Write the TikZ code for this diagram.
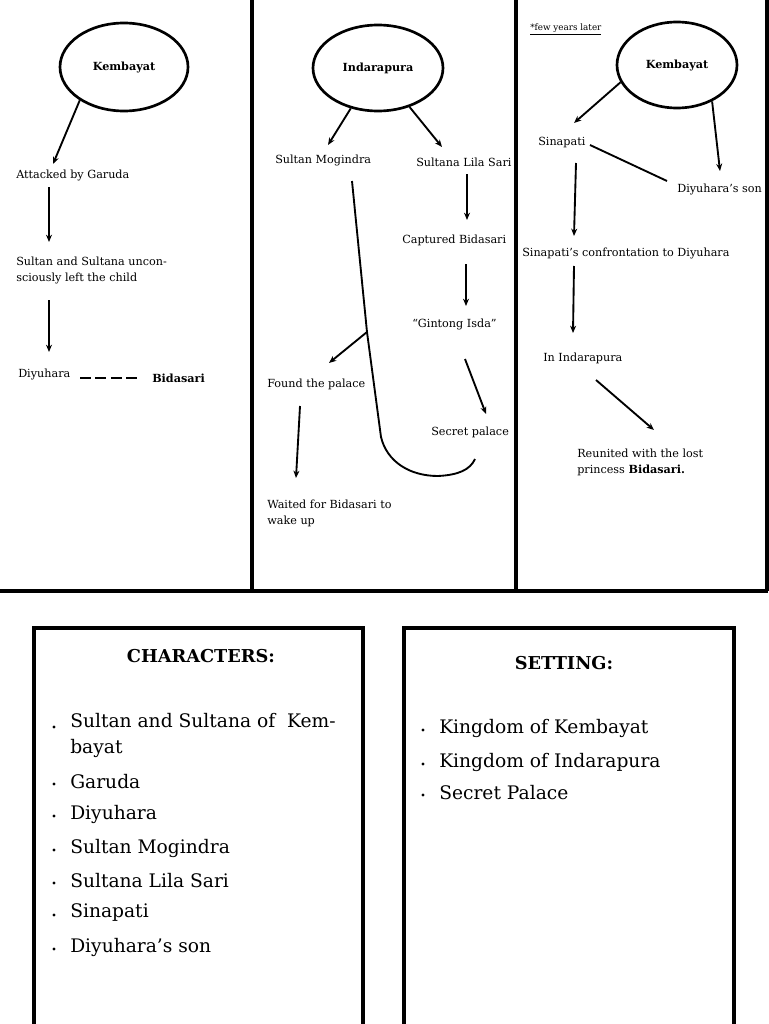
\documentclass[tikz,border=0pt]{standalone}
\usepackage{fontspec}
\setmainfont{DejaVu Serif}
\usetikzlibrary{shapes.geometric,arrows.meta}
\begin{document}
\begin{tikzpicture}[x=0.75pt,y=-0.75pt,
  txt/.style={anchor=west,inner sep=0pt,align=left,font=\fontsize{8.4}{12}\selectfont},
  btxt/.style={txt,font=\fontsize{8.4}{12}\selectfont\bfseries},
  arr/.style={-{Stealth[length=5.5pt,width=4.5pt]},line width=1.4pt},
  plain/.style={line width=1.4pt},
  oval/.style={ellipse,draw,line width=2pt,inner sep=0pt,font=\fontsize{8.4}{10}\selectfont\bfseries},
  frame/.style={line width=2.3pt},
  head/.style={inner sep=0pt,font=\fontsize{13.3}{16}\selectfont\bfseries},
  item/.style={anchor=west,inner sep=0pt,align=left,font=\fontsize{14}{19.5}\selectfont},
  dot/.style={circle,fill,inner sep=0pt,minimum size=2.6pt},
]
\useasboundingbox (0,0) rectangle (768,1024);

% ---------- top frames ----------
\draw[frame] (0,591) -- (768,591);
\draw[frame] (252,0) -- (252,591);
\draw[frame] (516,0) -- (516,591);
\draw[frame] (767,0) -- (767,591);

% ---------- left column ----------
\node[oval,minimum width=96pt,minimum height=66pt] (k1) at (124,67) {Kembayat};
\node[txt] (att) at (16,175) {Attacked by Garuda};
\node[txt] (left) at (16,270) {Sultan and Sultana uncon-\\sciously left the child};
\node[txt] (diy) at (18,374) {Diyuhara};
\node[btxt] (bid) at (152,378) {Bidasari};
\coordinate (attT) at (53,164);
\coordinate (attB) at (49,187);
\coordinate (leftT) at (49,242);
\coordinate (leftB) at (49,300);
\coordinate (diyT) at (49,352);
\coordinate (dashL) at (80,378);
\coordinate (dashR) at (139,378);
\draw[arr] (k1.217) -- (attT);
\draw[arr] (attB) -- (leftT);
\draw[arr] (leftB) -- (diyT);
\draw[line width=1.8pt,dash pattern=on 8pt off 3.6pt] (dashL) -- (dashR);

% ---------- middle column ----------
\node[oval,minimum width=97.5pt,minimum height=64.5pt] (ind) at (378,68) {Indarapura};
\node[txt] (mog) at (275,160) {Sultan Mogindra};
\node[txt] (lila) at (416,162) {Sultana Lila Sari};
\node[txt] (cap) at (402,240) {Captured Bidasari};
\node[txt] (gin) at (412,324) {“Gintong Isda”};
\node[txt] (sec) at (431,432) {Secret palace};
\node[txt] (found) at (267,384) {Found the palace};
\node[txt] (wait) at (267,513) {Waited for Bidasari to\\wake up};
\coordinate (mogT) at (328,145);
\coordinate (lilaT) at (442,147);
\coordinate (lilaB) at (467,174);
\coordinate (capT) at (467,220);
\coordinate (capB) at (466,264);
\coordinate (ginT) at (466,306);
\coordinate (ginB) at (465,359);
\coordinate (secT) at (486,414);
\coordinate (mogB) at (352,181);
\coordinate (fork) at (367,332);
\coordinate (foundT) at (329,363);
\coordinate (foundB) at (300,406);
\coordinate (waitT) at (296,478);
\coordinate (secB) at (475,459);
\draw[arr] (ind.236) -- (mogT);
\draw[arr] (ind.309) -- (lilaT);
\draw[arr] (lilaB) -- (capT);
\draw[arr] (capB) -- (ginT);
\draw[arr] (ginB) -- (secT);
\draw[plain] (mogB) -- (fork) -- (381,437) .. controls (387,462) and (410,476) .. (438,476) .. controls (458,475) and (470,470) .. (secB);
\draw[arr] (fork) -- (foundT);
\draw[arr] (foundB) -- (waitT);

% ---------- right column ----------
\node[txt,font=\fontsize{6.6}{8}\selectfont] (few) at (530,29) {\underline{*few years later}};
\node[oval,minimum width=90pt,minimum height=64.5pt] (k2) at (677,65) {Kembayat};
\node[txt] (sin) at (538,143) {Sinapati};
\node[txt] (dson) at (677,189) {Diyuhara’s son};
\node[txt] (conf) at (522,253) {Sinapati’s confrontation to Diyuhara};
\node[txt] (inind) at (543,358) {In Indarapura};
\node[txt] (reun) at (577,462) {Reunited with the lost\\princess \textbf{Bidasari.}};
\coordinate (sinT) at (574,123);
\coordinate (dsonT) at (720,171);
\coordinate (sinR) at (590,145);
\coordinate (dsonL) at (667,181);
\coordinate (sinB) at (576,163);
\coordinate (confT) at (574,236);
\coordinate (confB) at (574,266);
\coordinate (inT) at (573,333);
\coordinate (inB) at (596,380);
\coordinate (reunT) at (654,430);
\draw[arr] (k2.197) -- (sinT);
\draw[arr] (k2.314) -- (dsonT);
\draw[plain] (sinR) -- (dsonL);
\draw[arr] (sinB) -- (confT);
\draw[arr] (confB) -- (inT);
\draw[arr] (inB) -- (reunT);

% ---------- bottom boxes ----------
\draw[frame] (34,1026) |- (363,628) -- (363,1026);
\draw[frame] (404,1026) |- (734,628) -- (734,1026);
\node[head] (chh) at (201,656) {CHARACTERS:};
\node[head] (seth) at (564,663) {SETTING:};

\node[item] (c1) at (70,735) {Sultan and Sultana of~ Kem-\\bayat};
\node[item] (c2) at (70,782) {Garuda};
\node[item] (c3) at (70,814) {Diyuhara};
\node[item] (c4) at (70,848) {Sultan Mogindra};
\node[item] (c5) at (70,881) {Sultana Lila Sari};
\node[item] (c6) at (70,913) {Sinapati};
\node[item] (c7) at (70,947) {Diyuhara’s son};
\foreach \yy/\nm in {725/b1,782/b2,814/b3,848/b4,881/b5,913/b6,947/b7}
  \node[dot] (\nm) at (54,\yy+2) {};

\node[item] (s1) at (439,728) {Kingdom of Kembayat};
\node[item] (s2) at (439,762) {Kingdom of Indarapura};
\node[item] (s3) at (439,793) {Secret Palace};
\foreach \yy/\nm in {728/d1,762/d2,793/d3}
  \node[dot] (\nm) at (423,\yy+2) {};
\end{tikzpicture}
\end{document}
